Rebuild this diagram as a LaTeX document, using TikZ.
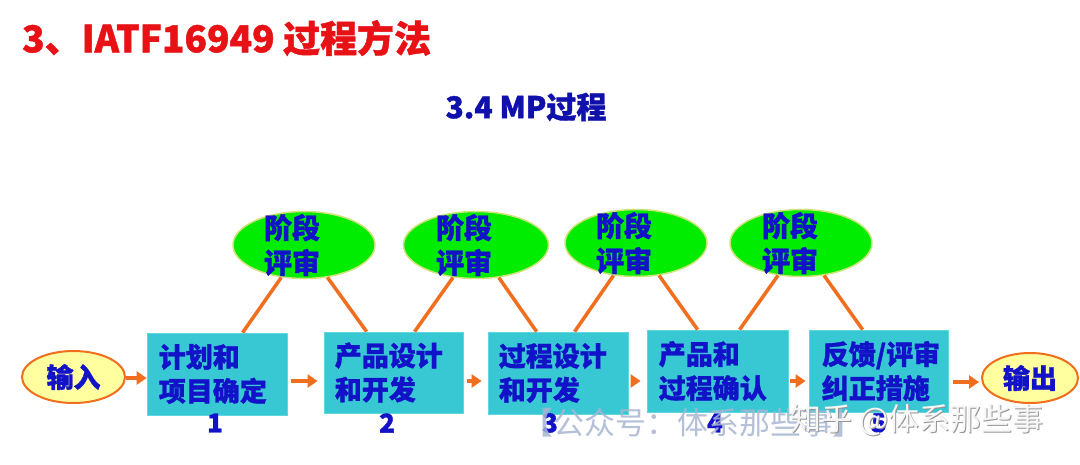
\documentclass[tikz,border=0pt]{standalone}
\usepackage{fontspec}
\setmainfont{Noto Sans CJK SC}[BoldFeatures={FakeBold=1.2}]
\usetikzlibrary{shapes.geometric,arrows.meta}
\definecolor{tred}{RGB}{232,18,22}
\definecolor{tblue}{RGB}{18,18,200}
\definecolor{sblue}{RGB}{16,16,170}
\definecolor{boxc}{RGB}{56,200,212}
\definecolor{boxb}{RGB}{96,214,224}
\definecolor{eg}{RGB}{0,236,0}
\definecolor{egb}{RGB}{205,228,120}
\definecolor{oc}{RGB}{240,110,30}
\definecolor{iofill}{RGB}{255,255,160}
\definecolor{wmc}{RGB}{168,182,210}
\definecolor{wmshadow}{RGB}{150,150,150}
\definecolor{wmface}{RGB}{246,246,246}
\begin{document}
\begin{tikzpicture}[x=1pt,y=-1pt,
  procbox/.style={draw=boxb,line width=0.8pt,fill=boxc,minimum width=140pt,minimum height=82pt,inner sep=0pt},
  boxtxt/.style={anchor=west,align=left,font=\bfseries\fontsize{27}{34}\selectfont,text=tblue,inner sep=0pt},
  review/.style={ellipse,draw=egb,line width=1.5pt,fill=eg,minimum width=142pt,minimum height=67pt,inner sep=0pt},
  revtxt/.style={align=center,font=\bfseries\fontsize{28}{35}\selectfont,text=tblue,inner sep=0pt},
  io/.style={ellipse,draw=oc,line width=2pt,fill=iofill,inner sep=0pt,font=\bfseries\fontsize{27}{27}\selectfont,text=tblue},
  link/.style={draw=oc,line width=3.5pt},
  flow/.style={draw=oc,line width=4pt,-{Triangle[length=10pt,width=13pt]},shorten <=4pt,shorten >=6pt},
  numlbl/.style={font=\bfseries\fontsize{26}{26}\selectfont,text=tblue,inner sep=0pt}
]
\fill[white] (0,0) rectangle (1080,464);
\useasboundingbox (0,0) rectangle (1080,464);

% titles
\node[anchor=west,text=tred,font=\bfseries\fontsize{37}{37}\selectfont,inner sep=0pt] (title) at (22,38) {3、IATF16949 过程方法};
\node[text=sblue,font=\bfseries\fontsize{30}{30}\selectfont,inner sep=0pt] (sub) at (526,107) {3.4 MP过程};

% process boxes
\node[procbox] (b1) at (217,374) {};
\node[procbox,minimum width=139pt,minimum height=81pt] (b2) at (393.5,372.5) {};
\node[procbox] (b3) at (558,373) {};
\node[procbox,minimum width=141pt] (b4) at (717.5,371) {};
\node[procbox,minimum width=139pt] (b5) at (878.5,371) {};

\node[boxtxt] (t1) at ([xshift=12pt]b1.west) {计划和\\项目确定};
\node[boxtxt] (t2) at ([xshift=11pt]b2.west) {产品设计\\和开发};
\node[boxtxt] (t3) at ([xshift=11pt]b3.west) {过程设计\\和开发};
\node[boxtxt] (t4) at ([xshift=12pt]b4.west) {产品和\\过程确认};
\node[boxtxt] (t5) at ([xshift=13pt]b5.west) {反馈/评审\\纠正措施};

% input / output
\node[io,minimum width=103pt,minimum height=52pt] (in) at (73.5,377) {输入};
\node[io,minimum width=96pt,minimum height=50pt] (out) at (1030,378) {输出};

% review ellipses
\node[review] (e1) at (304,245) {};
\node[review,minimum width=145pt] (e2) at (476,245) {};
\node[review] (e3) at (636,243) {};
\node[review] (e4) at (801,243) {};
\node[revtxt] (e1t) at ([xshift=-12pt]e1.center) {阶段\\评审};
\node[revtxt] (e2t) at ([xshift=-12pt]e2.center) {阶段\\评审};
\node[revtxt] (e3t) at ([xshift=-12pt]e3.center) {阶段\\评审};
\node[revtxt] (e4t) at ([xshift=-11pt]e4.center) {阶段\\评审};

% review links
\draw[link] ([xshift=96pt]b1.north west) -- (e1);
\draw[link] ([xshift=43pt]b2.north west) -- (e1);
\draw[link] ([xshift=91pt]b2.north west) -- (e2);
\draw[link] ([xshift=49pt]b3.north west) -- (e2);
\draw[link] ([xshift=87pt]b3.north west) -- (e3);
\draw[link] ([xshift=51pt]b4.north west) -- (e3);
\draw[link] ([xshift=93pt]b4.north west) -- (e4);
\draw[link] ([xshift=54pt]b5.north west) -- (e4);

% flow arrows
\draw[flow,shorten <=0pt,shorten >=0pt] ([yshift=-1pt]in.east) -- ([yshift=-1pt]in.east -| b1.west);
\draw[flow] ([yshift=-7pt]b1.east) -- ([yshift=-7pt]b1.east -| b2.west);
\draw[flow] ([yshift=-8.5pt]b2.east) -- ([yshift=-8.5pt]b2.east -| b3.west);
\draw[flow] ([yshift=-8pt]b3.east) -- ([yshift=-8pt]b3.east -| b4.west);
\draw[flow,shorten <=2pt,shorten >=3pt] ([yshift=-10pt]b4.east) -- ([yshift=-10pt]b4.east -| b5.west);
\draw[flow,shorten <=5pt,shorten >=2pt] ([yshift=-11pt]b5.east) -- ([yshift=-11pt]b5.east -| out.west);

% step numbers
\node[numlbl] (n1) at (215,423) {1};
\node[numlbl] (n2) at (387,423) {2};
\node[numlbl] (n3) at (550,423) {3};
\node[numlbl] (n4) at (715,423) {4};
\node[numlbl] (n5) at (879,423) {5};

% watermarks
\node[anchor=west,inner sep=0pt,text=wmc,opacity=0.85,font=\fontsize{31}{31}\selectfont] (wm1) at (522,423) {【公众号：体系那些事】};
\node[anchor=west,inner sep=0pt,text=wmshadow,font=\fontsize{31}{31}\selectfont] (wm2s) at (791.5,421.5) {知乎 @体系那些事};
\node[anchor=west,inner sep=0pt,text=wmface,font=\fontsize{31}{31}\selectfont] (wm2) at (790,420) {知乎 @体系那些事};
\end{tikzpicture}
\end{document}
